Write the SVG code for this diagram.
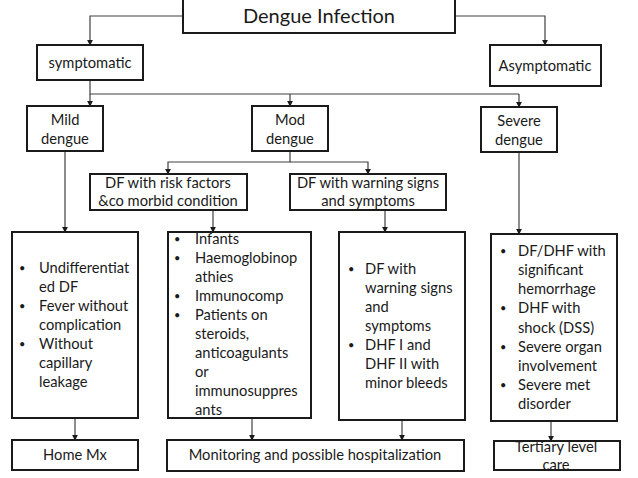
<svg xmlns="http://www.w3.org/2000/svg" width="638" height="478" viewBox="0 0 638 478">
<style>
.box{fill:#fff;stroke:#1a1a1a;stroke-width:2}
.t{font-family:Lato,"Open Sans",sans-serif;font-size:14.7px;fill:#1a1a1a}
.b{font-family:Lato,"Open Sans",sans-serif;font-size:11px;fill:#1a1a1a}
.c{text-anchor:middle}
.big{font-size:20px}
.con{fill:none;stroke:#404040;stroke-width:1.2}
</style>
<defs>
<marker id="ah" viewBox="0 0 8 8" refX="7" refY="4" markerWidth="6" markerHeight="6" markerUnits="userSpaceOnUse" orient="auto">
<path d="M0,0 L8,4 L0,8 z" fill="#1a1a1a"/>
</marker>
</defs>
<rect width="638" height="478" fill="#fff"/>
<g id="connectors">
<path class="con" d="M183,16 H90 V45" marker-end="url(#ah)"/>
<path class="con" d="M455,16 H545 V45" marker-end="url(#ah)"/>
<path class="con" d="M90,80 V94 H519"/>
<path class="con" d="M90,94 V106" marker-end="url(#ah)"/>
<path class="con" d="M290,94 V106" marker-end="url(#ah)"/>
<path class="con" d="M519,94 V107" marker-end="url(#ah)"/>
<path class="con" d="M65,151 V232" marker-end="url(#ah)"/>
<path class="con" d="M290,151 V162 H168 V174" marker-end="url(#ah)"/>
<path class="con" d="M290,162 H368 V174" marker-end="url(#ah)"/>
<path class="con" d="M213,210 V232" marker-end="url(#ah)"/>
<path class="con" d="M385,210 V232" marker-end="url(#ah)"/>
<path class="con" d="M519,152 V234" marker-end="url(#ah)"/>
<path class="con" d="M75,418 V440" marker-end="url(#ah)"/>
<path class="con" d="M252,418 V440" marker-end="url(#ah)"/>
<path class="con" d="M402,420 V440" marker-end="url(#ah)"/>
<path class="con" d="M551,421 V441" marker-end="url(#ah)"/>
</g>
<g id="dengue-infection">
<rect class="box" x="183" y="-2" width="272" height="35"/>
<text class="t c big" x="319" y="23">Dengue Infection</text>
</g>
<g id="symptomatic">
<rect class="box" x="37" y="45" width="106" height="35"/>
<text class="t c" x="90" y="68">symptomatic</text>
</g>
<g id="asymptomatic">
<rect class="box" x="490" y="45" width="111" height="41"/>
<text class="t c" x="545" y="71">Asymptomatic</text>
</g>
<g id="mild">
<rect class="box" x="27" y="106" width="76" height="45"/>
<text class="t c" x="65" y="125">Mild</text>
<text class="t c" x="65" y="144">dengue</text>
</g>
<g id="mod">
<rect class="box" x="252" y="106" width="76" height="45"/>
<text class="t c" x="290" y="125">Mod</text>
<text class="t c" x="290" y="144">dengue</text>
</g>
<g id="severe">
<rect class="box" x="481" y="107" width="76" height="45"/>
<text class="t c" x="519" y="126">Severe</text>
<text class="t c" x="519" y="145">dengue</text>
</g>
<g id="df-risk">
<rect class="box" x="90" y="174" width="157" height="36"/>
<text class="t c" x="168" y="188">DF with risk factors</text>
<text class="t c" x="168" y="206">&amp;co morbid condition</text>
</g>
<g id="df-warning">
<rect class="box" x="290" y="174" width="156" height="36"/>
<text class="t c" x="368" y="188">DF with warning signs</text>
<text class="t c" x="368" y="206">and symptoms</text>
</g>
<g id="mild-list">
<rect class="box" x="12" y="232" width="126" height="186"/>
<text class="b" x="19" y="272">•</text><text class="t" x="39" y="273">Undifferentiat</text>
<text class="t" x="39" y="292">ed DF</text>
<text class="b" x="19" y="310">•</text><text class="t" x="39" y="311">Fever without</text>
<text class="t" x="39" y="330">complication</text>
<text class="b" x="19" y="348">•</text><text class="t" x="39" y="349">Without</text>
<text class="t" x="39" y="368">capillary</text>
<text class="t" x="39" y="387">leakage</text>
</g>
<g id="risk-list">
<rect class="box" x="168" y="232" width="143" height="186"/>
<text class="b" x="174" y="243">•</text><text class="t" x="195" y="244">Infants</text>
<text class="b" x="174" y="262">•</text><text class="t" x="195" y="263">Haemoglobinop</text>
<text class="t" x="195" y="282">athies</text>
<text class="b" x="174" y="300">•</text><text class="t" x="195" y="301">Immunocomp</text>
<text class="b" x="174" y="319">•</text><text class="t" x="195" y="320">Patients on</text>
<text class="t" x="195" y="339">steroids,</text>
<text class="t" x="195" y="358">anticoagulants</text>
<text class="t" x="195" y="377">or</text>
<text class="t" x="195" y="396">immunosuppres</text>
<text class="t" x="195" y="415">ants</text>
</g>
<g id="warning-list">
<rect class="box" x="339" y="232" width="126" height="188"/>
<text class="b" x="348" y="273">•</text><text class="t" x="365" y="274">DF with</text>
<text class="t" x="365" y="293">warning signs</text>
<text class="t" x="365" y="312">and</text>
<text class="t" x="365" y="331">symptoms</text>
<text class="b" x="348" y="349">•</text><text class="t" x="365" y="350">DHF I and</text>
<text class="t" x="365" y="369">DHF II with</text>
<text class="t" x="365" y="388">minor bleeds</text>
</g>
<g id="severe-list">
<rect class="box" x="491" y="234" width="126" height="187"/>
<text class="b" x="500" y="255">•</text><text class="t" x="518" y="256">DF/DHF with</text>
<text class="t" x="518" y="275">significant</text>
<text class="t" x="518" y="294">hemorrhage</text>
<text class="b" x="500" y="312">•</text><text class="t" x="518" y="313">DHF with</text>
<text class="t" x="518" y="333">shock (DSS)</text>
<text class="b" x="500" y="351">•</text><text class="t" x="518" y="352">Severe organ</text>
<text class="t" x="518" y="371">involvement</text>
<text class="b" x="500" y="389">•</text><text class="t" x="518" y="390">Severe met</text>
<text class="t" x="518" y="409">disorder</text>
</g>
<g id="home">
<rect class="box" x="12" y="440" width="126" height="30"/>
<text class="t c" x="75" y="460">Home Mx</text>
</g>
<g id="monitoring">
<rect class="box" x="167" y="440" width="297" height="31"/>
<text class="t c" x="315" y="460">Monitoring and possible hospitalization</text>
</g>
<g id="tertiary">
<rect class="box" x="494" y="441" width="126" height="29"/>
<text class="t c" x="556" y="452">Tertiary level</text>
<text class="t c" x="556" y="470">care</text>
</g>
</svg>
